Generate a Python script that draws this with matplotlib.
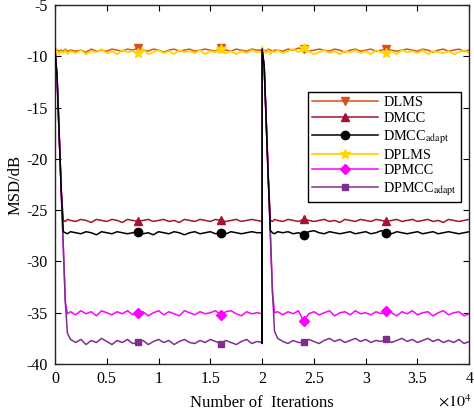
import numpy as np
import matplotlib.pyplot as plt

plt.rcParams['font.family'] = ['Liberation Serif', 'DejaVu Serif']
plt.rcParams['mathtext.fontset'] = 'stix'
plt.rcParams['axes.unicode_minus'] = False

# Iteration grid (two halves, the system changes abruptly at 20000)
iters = ([0, 200, 400, 600, 800, 1000, 1200, 1500] + list(range(2000, 20000, 500))
         + [19990, 20000, 20000]
         + [20200, 20400, 20600, 20800, 21000, 21200, 21500] + list(range(22000, 40001, 500)))

# MSD curves in dB
dlms = [-9.2, -9.4, -9.5, -9.4, -9.5, -9.3, -9.5, -9.4,
        -9.5, -9.4, -9.6, -9.3, -9.5, -9.4, -9.5, -9.3,
        -9.4, -9.5, -9.3, -9.4, -9.2, -9.4, -9.5, -9.3,
        -9.4, -9.6, -9.4, -9.3, -9.5, -9.4, -9.3, -9.5,
        -9.4, -9.3, -9.4, -9.5, -9.2, -9.4, -9.5, -9.3,
        -9.4, -9.5, -9.3, -9.4,
        -9.4, -9.4, -9.3,
        -9.4, -9.5, -9.3, -9.4, -9.5, -9.4, -9.4,
        -9.5, -9.3, -9.4, -9.2, -9.3, -9.5, -9.4, -9.3,
        -9.4, -9.5, -9.3, -9.4, -9.6, -9.4, -9.3, -9.5,
        -9.4, -9.3, -9.5, -9.4, -9.3, -9.4, -9.5, -9.4,
        -9.3, -9.4, -9.5, -9.3, -9.4, -9.6, -9.4, -9.3,
        -9.5, -9.4, -9.3, -9.5, -9.4]

dmcc = [-9.3, -12.0, -17.5, -23.0, -26.0, -26.1, -25.9, -26.0,
        -26.1, -25.9, -26.0, -26.2, -25.9, -26.0, -26.1, -25.9,
        -26.0, -26.2, -25.9, -26.0, -26.1, -26.0, -25.9, -26.1,
        -26.0, -25.9, -26.1, -26.0, -26.2, -25.9, -26.0, -26.1,
        -25.9, -26.0, -26.1, -25.9, -26.0, -26.1, -26.0, -25.9,
        -26.1, -26.0, -25.9, -26.0,
        -26.1, -26.1, -9.3,
        -11.0, -16.5, -22.0, -26.0, -26.1, -25.9, -26.0,
        -26.1, -25.9, -26.0, -26.1, -25.9, -26.0, -26.1, -26.0,
        -25.9, -26.1, -26.0, -26.2, -25.9, -26.0, -26.1, -25.9,
        -26.0, -26.1, -25.9, -26.0, -26.1, -26.0, -25.9, -26.1,
        -26.0, -25.9, -26.1, -26.0, -25.9, -26.1, -26.0, -26.2,
        -25.9, -26.0, -26.1, -26.0, -25.9]

dmcc_adapt = [-9.3, -12.0, -17.5, -23.0, -27.1, -27.2, -27.3, -27.1,
              -27.2, -27.3, -27.1, -27.2, -27.4, -27.1, -27.2, -27.3,
              -27.1, -27.2, -27.3, -27.2, -27.1, -27.3, -27.2, -27.4,
              -27.1, -27.2, -27.3, -27.1, -27.2, -27.4, -27.2, -27.1,
              -27.3, -27.2, -27.1, -27.3, -27.2, -27.3, -27.1, -27.2,
              -27.3, -27.2, -27.1, -27.2,
              -27.2, -38.0, -9.3,
              -11.0, -16.5, -22.0, -27.0, -27.2, -27.3, -27.1,
              -27.2, -27.1, -27.3, -27.2, -27.4, -27.1, -27.0, -27.2,
              -27.3, -27.1, -27.2, -27.3, -27.2, -27.1, -27.3, -27.2,
              -27.1, -27.3, -27.2, -27.0, -27.2, -27.3, -27.1, -27.2,
              -27.3, -27.2, -27.1, -27.3, -27.2, -27.1, -27.3, -27.2,
              -27.1, -27.2, -27.3, -27.2, -27.1]

dplms = [-9.0, -9.6, -9.8, -9.5, -9.7, -9.4, -9.8, -9.5,
         -9.7, -9.4, -9.8, -9.5, -9.6, -9.3, -9.7, -9.5,
         -9.8, -9.4, -9.6, -9.5, -9.7, -9.3, -9.8, -9.6,
         -9.4, -9.7, -9.5, -9.8, -9.4, -9.6, -9.5, -9.7,
         -9.4, -9.8, -9.5, -9.6, -9.3, -9.7, -9.5, -9.8,
         -9.5, -9.7, -9.4, -9.6,
         -9.6, -9.6, -9.1,
         -9.5, -9.7, -9.4, -9.8, -9.5, -9.6, -9.4,
         -9.7, -9.5, -9.3, -9.6, -9.2, -9.5, -9.8, -9.6,
         -9.4, -9.7, -9.5, -9.8, -9.5, -9.6, -9.4, -9.7,
         -9.5, -9.8, -9.4, -9.6, -9.7, -9.5, -9.8, -9.4,
         -9.6, -9.5, -9.7, -9.4, -9.8, -9.5, -9.6, -9.7,
         -9.5, -9.8, -9.6, -9.4, -9.7]

dpmcc = [-9.3, -12.0, -17.5, -23.0, -28.5, -34.0, -35.1, -34.9,
         -35.2, -34.8, -35.1, -34.9, -35.3, -34.8, -35.0, -35.2,
         -34.9, -35.1, -34.8, -35.2, -35.0, -34.9, -35.3, -35.0,
         -34.8, -35.2, -34.9, -35.1, -35.3, -34.8, -35.0, -35.2,
         -34.9, -35.1, -35.0, -34.8, -35.2, -34.9, -34.8, -35.1,
         -35.3, -34.9, -35.1, -35.0,
         -35.1, -35.1, -9.3,
         -11.0, -16.5, -22.0, -27.5, -33.0, -35.0, -34.9,
         -35.2, -34.9, -35.1, -34.8, -35.8, -35.1, -34.9, -35.2,
         -35.0, -34.8, -35.3, -35.0, -34.9, -35.2, -34.8, -35.1,
         -35.0, -35.2, -34.9, -35.1, -34.8, -35.0, -35.3, -34.9,
         -35.1, -34.8, -35.2, -35.0, -34.9, -35.3, -35.0, -34.8,
         -35.2, -35.0, -34.9, -35.3, -35.1]

dpmcc_adapt = [-9.3, -12.0, -17.5, -23.0, -28.5, -34.0, -37.0, -37.6,
               -37.9, -37.6, -38.1, -37.7, -37.9, -37.5, -37.8, -38.1,
               -37.7, -37.9, -37.6, -38.0, -37.9, -37.7, -38.1, -37.8,
               -37.6, -37.9, -37.7, -38.1, -37.8, -37.6, -37.9, -38.0,
               -37.7, -37.9, -37.6, -37.8, -38.0, -37.7, -37.9, -38.1,
               -37.8, -37.6, -38.0, -37.8,
               -37.9, -37.9, -9.3,
               -11.0, -16.5, -22.0, -27.5, -33.0, -36.8, -37.5,
               -37.8, -38.0, -37.7, -37.9, -37.9, -37.6, -37.8, -38.0,
               -37.7, -37.5, -37.8, -37.6, -37.9, -37.7, -37.5, -37.8,
               -37.6, -37.9, -37.7, -37.8, -37.6, -37.9, -37.7, -37.5,
               -37.8, -37.6, -37.9, -37.7, -37.5, -37.8, -37.6, -37.9,
               -37.7, -37.9, -37.6, -38.0, -37.8]

mark_iters = [8000, 16000, 24000, 32000]
marks = [iters.index(m) for m in mark_iters]

fig = plt.figure(figsize=(4.74, 4.17), dpi=100)
ax = fig.add_axes([0.116, 0.127, 0.874, 0.861])

ax.plot(iters, dlms, color='#D95319', lw=1.1, marker='v', ms=6, markevery=marks, label='DLMS')
ax.plot(iters, dmcc, color='#A2142F', lw=1.1, marker='^', ms=6, markevery=marks, label='DMCC')
ax.plot(iters, dmcc_adapt, color='k', lw=1.1, marker='o', ms=6, markevery=marks,
        label='DMCC$_{\\mathrm{adapt}}$', zorder=4)
ax.plot(iters, dplms, color='#FFD700', lw=1.3, marker='*', ms=7.5, markevery=marks, label='DPLMS')
ax.plot(iters, dpmcc, color='#FF00FF', lw=1.1, marker='D', ms=5, markevery=marks, label='DPMCC')
ax.plot(iters, dpmcc_adapt, color='#7E2F8E', lw=1.1, marker='s', ms=5, markevery=marks,
        label='DPMCC$_{\\mathrm{adapt}}$')

ax.set_xlim(0, 40000)
ax.set_ylim(-40, -5)
xt = np.arange(0, 40001, 5000)
ax.set_xticks(xt)
ax.set_xticklabels(['0', '0.5', '1', '1.5', '2', '2.5', '3', '3.5', '4'])
ax.set_yticks(np.arange(-40, -4, 5))
ax.tick_params(direction='in', top=True, right=True, labelsize=11.5, length=4, width=0.8, pad=5)
for s in ax.spines.values():
    s.set_linewidth(1.0)
    s.set_color('#262626')

ax.set_xlabel('Number of  Iterations', fontsize=12, labelpad=6)
ax.set_ylabel('MSD/dB', fontsize=12, labelpad=2)
fig.text(0.995, 0.015, '$\\times 10^4$', ha='right', va='bottom', fontsize=11.5)

leg = ax.legend(loc='upper right', bbox_to_anchor=(0.981, 0.758), borderaxespad=0,
                fontsize=10.3, handlelength=4.6, handletextpad=0.35, labelspacing=0.2,
                borderpad=0.3, fancybox=False, framealpha=1, edgecolor='k')
leg.get_frame().set_linewidth(1.0)

fig.savefig('out.png', dpi=100)
